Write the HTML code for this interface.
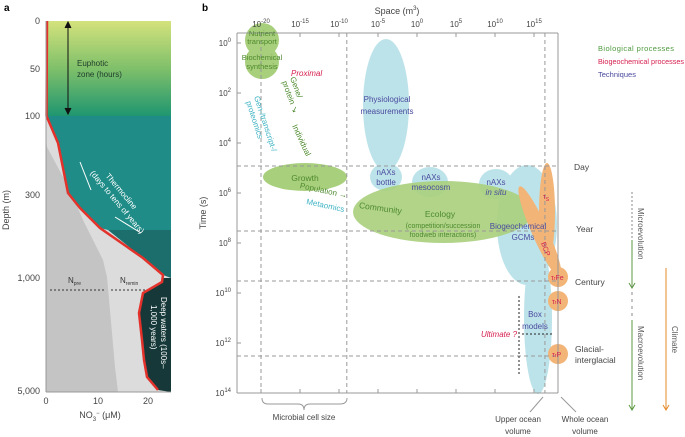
<!DOCTYPE html>
<html><head><meta charset="utf-8"><style>
body{margin:0;background:#fff}
svg{display:block;font-family:"Liberation Sans",sans-serif}
</style></head><body>
<svg width="685" height="437" viewBox="0 0 685 437">
<defs>
<linearGradient id="eu" x1="0" y1="0" x2="0" y2="1"><stop offset="0" stop-color="#d4e27c"/><stop offset="0.5" stop-color="#7fc06a"/><stop offset="1" stop-color="#1f9670"/></linearGradient>
</defs>
<g>
<text x="4" y="11" font-size="10" font-weight="bold">a</text>
<rect x="46" y="21" width="125" height="371" fill="#dcdcdc"/>
<path d="M46,140 L47,147 L70,190 L83,220 L103,260 L107,277 L112,333 L115,367 L118,392 L46,392 Z" fill="#c4c4c4"/>
<rect x="46" y="21" width="125" height="95" fill="url(#eu)"/>
<path d="M47,116 L171,116 L171,230 L108,230 L100,228 L80,208 L68,193 L58,143 Z" fill="#1f8c87"/>
<path d="M108,230 L171,230 L171,278 L163,275 L143,258 Z" fill="#1b6e6c"/>
<path d="M171,278 L163,278 L162,282 L143,293 L139,313 L142,340 L144,360 L147,377 L158,390 L171,392 Z" fill="#163838"/>
<path d="M47,21 L46.5,116 L58,143 L68,193 L80,208 L100,228 L143,258 L163,275 L162,282 L143,293 L139,313 L142,340 L144,360 L147,377 L158,390" fill="none" stroke="#e2322b" stroke-width="2.5"/>
<line x1="46" y1="21" x2="46" y2="392" stroke="#999"/>
<line x1="46" y1="392" x2="171" y2="392" stroke="#999"/>
<g font-size="9" fill="#444" text-anchor="end">
<text x="40" y="24">0</text><text x="40" y="72">50</text><text x="40" y="119">100</text><text x="40" y="198">300</text><text x="40" y="281">1,000</text><text x="40" y="394">5,000</text></g>
<text transform="translate(9,210) rotate(-90)" font-size="9" fill="#444" text-anchor="middle">Depth (m)</text>
<g font-size="9" fill="#444" text-anchor="middle"><text x="46" y="404">0</text><text x="98" y="404">10</text><text x="148" y="404">20</text></g>
<text x="100" y="418" font-size="9" fill="#444" text-anchor="middle">NO<tspan font-size="6" dy="3">3</tspan><tspan font-size="6" dy="-6">−</tspan><tspan dy="3"> (μM)</tspan></text>
<line x1="68" y1="24" x2="68" y2="112" stroke="#111"/>
<path d="M65,28 L68,22 L71,28 M65,108 L68,114 L71,108" fill="#111" stroke="#111"/>
<text x="77" y="66" font-size="8" fill="#1e3a2a">Euphotic</text>
<text x="77" y="77" font-size="8" fill="#1e3a2a">zone (hours)</text>
<text transform="translate(100,170) rotate(50)" font-size="8" fill="#fff"><tspan x="8" y="0">Thermocline</tspan><tspan x="-4" y="10">(days to tens of years)</tspan></text>
<line x1="80" y1="162" x2="91" y2="190" stroke="#fff"/>
<line x1="115" y1="217" x2="141" y2="233" stroke="#fff"/>
<line x1="50" y1="290" x2="104" y2="290" stroke="#333" stroke-dasharray="2,2"/>
<line x1="111" y1="290" x2="146" y2="290" stroke="#333" stroke-dasharray="2,2"/>
<text x="68" y="283" font-size="8" fill="#333">N<tspan font-size="5" dy="2">pre</tspan></text>
<text x="120" y="283" font-size="8" fill="#333">N<tspan font-size="5" dy="2">remin</tspan></text>
<text transform="translate(161,297) rotate(90)" font-size="8" fill="#fff"><tspan x="0" y="0">Deep waters (100s–</tspan><tspan x="8" y="10">1,000 years)</tspan></text>
</g>
<g>
<text x="202" y="11" font-size="10" font-weight="bold">b</text>
<g id="shapes">
<ellipse cx="386" cy="105" rx="23" ry="66" fill="#bde3ea"/>
<ellipse cx="527" cy="225" rx="30" ry="60" fill="#bde3ea"/>
<ellipse cx="538" cy="318" rx="14" ry="76" fill="#bde3ea"/>
<ellipse cx="386" cy="177" rx="16" ry="14" fill="#bde3ea"/>
<ellipse cx="430" cy="182" rx="18" ry="15" fill="#bde3ea"/>
<ellipse cx="496" cy="184" rx="17" ry="15" fill="#bde3ea"/>
<ellipse cx="443" cy="212" rx="90" ry="31" fill="#a8cf7c" opacity="0.9"/>
<ellipse cx="305" cy="177" rx="42" ry="14" fill="#a8cf7c"/>
<circle cx="262" cy="40" r="17" fill="#a8cf7c"/>
<circle cx="262" cy="62" r="17" fill="#a8cf7c"/>
<ellipse cx="547" cy="212" rx="8" ry="49" fill="#f2b477"/>
<ellipse cx="540" cy="232" rx="50" ry="8" transform="rotate(66 540 232)" fill="#f2b477"/>
<circle cx="558" cy="277" r="10" fill="#f2b477"/>
<circle cx="558" cy="301" r="10" fill="#f2b477"/>
<circle cx="558" cy="354" r="10" fill="#f2b477"/>
</g>
<g id="grid" stroke="#999" stroke-dasharray="4,3" fill="none"></g>
<line x1="237" y1="33" x2="558" y2="33" stroke="#999"/>
<line x1="237" y1="33" x2="237" y2="393" stroke="#999"/>
<line x1="237" y1="393" x2="558" y2="393" stroke="#999"/>
<line x1="558" y1="33" x2="558" y2="393" stroke="#999"/>
<g id="ticks" font-size="8" fill="#444"></g>
<text x="397" y="14" font-size="9" fill="#444" text-anchor="middle">Space (m<tspan font-size="6" dy="-4">3</tspan><tspan dy="4">)</tspan></text>
<text transform="translate(206,213) rotate(-90)" font-size="9" fill="#444" text-anchor="middle">Time (s)</text>
<g font-size="7.5" fill="#4e8a2e" text-anchor="middle">
<text x="262" y="36">Nutrient</text><text x="262" y="44">transport</text>
<text x="262" y="60">Biochemical</text><text x="262" y="69">synthesis</text>
<text x="305" y="181" font-size="8.5">Growth</text>
<text x="440" y="217" font-size="8.5">Ecology</text>
<text x="443" y="228" font-size="7">(competition/succession</text><text x="443" y="237" font-size="7">foodweb interactions)</text>
<text transform="translate(380,211) rotate(8)" font-size="8.5">Community</text>
<text transform="translate(323,193) rotate(12)" font-size="8">Population →</text>
<text transform="translate(290,78) rotate(70)" font-size="8" text-anchor="start">Gene/</text>
<text transform="translate(282,82) rotate(70)" font-size="8" text-anchor="start">protein ↘</text>
<text transform="translate(292,126) rotate(65)" font-size="8" text-anchor="start">Individual</text>
</g>
<g font-size="8" fill="#40b4c4">
<text transform="translate(254,97) rotate(72)">Gen-/transcript-/</text>
<text transform="translate(246,102) rotate(72)">proteomics</text>
<text transform="translate(306,204) rotate(12)">Metaomics</text>
</g>
<g font-size="8" fill="#4a4a9e" text-anchor="middle">
<text x="387" y="102">Physiological</text><text x="387" y="114">measurements</text>
<text x="386" y="175">nAXs</text><text x="386" y="185">bottle</text>
<text x="431" y="180">nAXs</text><text x="431" y="190">mesocosm</text>
<text x="496" y="185">nAXs</text><text x="496" y="195" font-style="italic">in situ</text>
<text x="518" y="229">Biogeochemical</text><text x="523" y="240">GCMs</text>
<text x="535" y="317">Box</text><text x="535" y="329">models</text>
</g>
<g font-size="8" fill="#d6204f">
<text x="291" y="76" font-style="italic">Proximal</text>
<text x="481" y="337" font-style="italic">Ultimate ?</text>
<text x="543" y="199" font-size="7">τ<tspan font-size="5" dy="2">S</tspan></text>
<text transform="translate(541,243) rotate(70)" font-size="7">BCP</text>
<text x="551" y="280" font-size="7">τ<tspan font-size="5">r</tspan>Fe</text>
<text x="552" y="304" font-size="7">τ<tspan font-size="5">r</tspan>N</text>
<text x="552" y="357" font-size="7">τ<tspan font-size="5">r</tspan>P</text>
</g>
<g stroke="#222" stroke-dasharray="2,2">
<line x1="519" y1="296" x2="519" y2="376"/><line x1="522" y1="334" x2="554" y2="334"/></g>
<g font-size="8.5" fill="#444">
<text x="574" y="170">Day</text><text x="576" y="232">Year</text><text x="575" y="285">Century</text>
<text x="575" y="352">Glacial-</text><text x="575" y="363">interglacial</text>
</g>
<g stroke="#999"><line x1="530" y1="412" x2="543" y2="397"/><line x1="576" y1="412" x2="561" y2="397"/></g>
<g font-size="8" fill="#444" text-anchor="middle">
<text x="518" y="422">Upper ocean</text><text x="518" y="434">volume</text>
<text x="585" y="422">Whole ocean</text><text x="585" y="434">volume</text>
<text x="304" y="420">Microbial cell size</text>
</g>
<path d="M262,398 Q262,404 268,404 L298,404 Q304,404 304,410 Q304,404 310,404 L340,404 Q347,404 347,398" fill="none" stroke="#999"/>
<g font-size="8" fill="#5a5a5a">
<text transform="translate(638,208) rotate(90)">Microevolution</text>
<text transform="translate(638,326) rotate(90)">Macroevolution</text>
<text transform="translate(672,326) rotate(90)">Climate</text>
</g>
<line x1="632" y1="192" x2="632" y2="240" stroke="#888" stroke-dasharray="2,2"/>
<line x1="632" y1="240" x2="632" y2="285" stroke="#5b9a40"/>
<line x1="632" y1="285" x2="632" y2="320" stroke="#888" stroke-dasharray="3,4"/>
<line x1="632" y1="320" x2="632" y2="410" stroke="#5b9a40"/>
<line x1="666" y1="268" x2="666" y2="410" stroke="#e38b2a"/>
<path d="M629,283 L632,288 L635,283 M629,405 L632,410 L635,405" fill="none" stroke="#5b9a40"/>
<path d="M663,405 L666,410 L669,405" fill="none" stroke="#e38b2a"/>
<g font-size="7.5">
<text x="598" y="51" fill="#4e9a3e" textLength="76">Biological processes</text>
<text x="598" y="64" fill="#d6204f" textLength="86" lengthAdjust="spacingAndGlyphs">Biogeochemical processes</text>
<text x="598" y="77" fill="#4a4a9e">Techniques</text>
</g>
</g>
</svg>
<script>
const spaceExps=[-20,-15,-10,-5,0,5,10,15];
const timeExps=[0,2,4,6,8,10,12,14];
const vDashExps=[-20,-9,16.4];
const hDashExps=[4.92,7.52,9.52,12.52];
const NS='http://www.w3.org/2000/svg';
function sx(e){return 261+(e+20)*7.8;}
function ty(e){return 43+e*25;}
const ticks=document.getElementById('ticks'),grid=document.getElementById('grid');
spaceExps.forEach(e=>{
 const t=document.createElementNS(NS,'text');
 
 
 t.setAttribute('x',sx(e));t.setAttribute('y',27);t.setAttribute('text-anchor','middle');
 t.innerHTML='10<tspan font-size="6" dy="-4">'+(e<0?'-'+(-e):e)+'</tspan>';ticks.appendChild(t);
 [33,393].forEach(y=>{const l=document.createElementNS(NS,'line');
 
 
 l.setAttribute('x1',sx(e));l.setAttribute('x2',sx(e));l.setAttribute('y1',y);l.setAttribute('y2',y===33?37:389);l.setAttribute('stroke','#999');ticks.appendChild(l);});
});
timeExps.forEach(e=>{
 const t=document.createElementNS(NS,'text');
 
 
 t.setAttribute('x',231);t.setAttribute('y',ty(e)+3);t.setAttribute('text-anchor','end');
 t.innerHTML='10<tspan font-size="6" dy="-4">'+e+'</tspan>';ticks.appendChild(t);
 const l=document.createElementNS(NS,'line');
 
 
 l.setAttribute('x1',237);l.setAttribute('x2',241);l.setAttribute('y1',ty(e));l.setAttribute('y2',ty(e));l.setAttribute('stroke','#999');ticks.appendChild(l);
});
vDashExps.forEach(e=>{const l=document.createElementNS(NS,'line');
 
 
 l.setAttribute('x1',sx(e));l.setAttribute('x2',sx(e));l.setAttribute('y1',33);l.setAttribute('y2',393);grid.appendChild(l);});
hDashExps.forEach(e=>{const l=document.createElementNS(NS,'line');
 
 
 l.setAttribute('x1',237);l.setAttribute('x2',558);l.setAttribute('y1',ty(e));l.setAttribute('y2',ty(e));grid.appendChild(l);});
</script>
</body></html>
